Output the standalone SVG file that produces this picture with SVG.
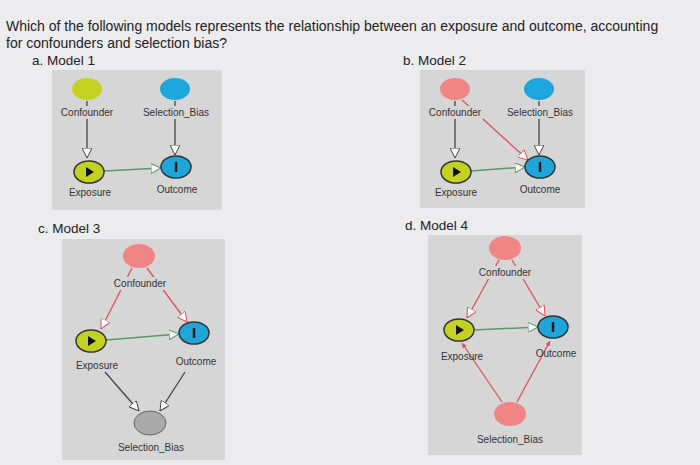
<svg xmlns="http://www.w3.org/2000/svg" width="700" height="465" viewBox="0 0 700 465">
<defs>
<style>
text{font-family:"Liberation Sans",Arial,sans-serif;fill:#222}
.q{font-size:14px}
.h{font-size:13.5px}
.l{font-size:10px;fill:#333}
.p{fill:#d6d6d6}
.g{fill:#c3d21f;stroke:#333;stroke-width:1.5}
.gn{fill:#c3d21f}
.b{fill:#1ca6dc}
.bo{fill:#1ca6dc;stroke:#333;stroke-width:1.5}
.r{fill:#f08585}
.gr{fill:#a9a9a9;stroke:#666;stroke-width:1}
.ek{stroke:#444;stroke-width:1.3;fill:none}
.er{stroke:#e0505a;stroke-width:1.3;fill:none}
.eg{stroke:#5a9a6a;stroke-width:1.5;fill:none}
</style>
<marker id="mk" viewBox="0 0 10 10" refX="10" refY="5" markerWidth="10" markerHeight="10" markerUnits="userSpaceOnUse" orient="auto"><path d="M0,0L10,5L0,10Z" fill="#fff" stroke="#444"/></marker>
<marker id="mr" viewBox="0 0 10 10" refX="10" refY="5" markerWidth="10" markerHeight="10" markerUnits="userSpaceOnUse" orient="auto"><path d="M0,0L10,5L0,10Z" fill="#fff" stroke="#e0505a"/></marker>
<marker id="mr2" viewBox="0 0 10 10" refX="10" refY="5" markerWidth="5" markerHeight="5" markerUnits="userSpaceOnUse" orient="auto"><path d="M0,0L10,5L0,10Z" fill="#e0505a"/></marker>
<marker id="mg" viewBox="0 0 10 10" refX="10" refY="5" markerWidth="10" markerHeight="10" markerUnits="userSpaceOnUse" orient="auto"><path d="M0,0L10,5L0,10Z" fill="#fff" stroke="#5a9a6a"/></marker>
<symbol id="exp" viewBox="-16 -12 32 24" overflow="visible"><ellipse rx="15" ry="11" class="g"/><path d="M-3,-5L5,0L-3,5Z" fill="#111"/></symbol>
<symbol id="out" viewBox="-16 -12 32 24" overflow="visible"><ellipse rx="15" ry="11" class="bo"/><rect x="-1.2" y="-5" width="2.4" height="10" fill="#111"/></symbol>
</defs>
<rect width="700" height="465" fill="#ececee"/>
<text class="q" x="6" y="31">Which of the following models represents the relationship between an exposure and outcome, accounting</text>
<text class="q" x="6" y="48">for confounders and selection bias?</text>
<text class="h" x="32" y="65">a.  Model 1</text>
<text class="h" x="403" y="65">b.  Model 2</text>
<text class="h" x="38" y="233">c.  Model 3</text>
<text class="h" x="405" y="230">d.  Model 4</text>
<rect class="p" x="52" y="70" width="170" height="140"/>
<rect class="p" x="420" y="70" width="165" height="138"/>
<rect class="p" x="62" y="239" width="163" height="221"/>
<rect class="p" x="428" y="235" width="154" height="220"/>
<g id="connectors">
<path class="ek" d="M87,101V158" marker-end="url(#mk)"/>
<path class="ek" d="M175,101V155" marker-end="url(#mk)"/>
<path class="eg" d="M104,171L161,168" marker-end="url(#mg)"/>
<path class="ek" d="M455,101V158" marker-end="url(#mk)"/>
<path class="ek" d="M539,101V155" marker-end="url(#mk)"/>
<path class="er" d="M462,100L528,160" marker-end="url(#mr)"/>
<path class="eg" d="M471,171L525,167" marker-end="url(#mg)"/>
<path class="er" d="M132,268L101,329" marker-end="url(#mr)"/>
<path class="er" d="M147,268L187,322" marker-end="url(#mr)"/>
<path class="eg" d="M106,340L179,334" marker-end="url(#mg)"/>
<path class="ek" d="M105,372L139,411" marker-end="url(#mk)"/>
<path class="ek" d="M185,372L160,411" marker-end="url(#mk)"/>
<path class="er" d="M499,260L467,318" marker-end="url(#mr)"/>
<path class="er" d="M512,260L545,316" marker-end="url(#mr)"/>
<path class="eg" d="M474,330L538,327" marker-end="url(#mg)"/>
<path class="er" d="M502,402L462,343" marker-end="url(#mr2)"/>
<path class="er" d="M517,402L550,341" marker-end="url(#mr2)"/>
</g>
<g id="m1-confounder"><ellipse cx="87" cy="89" rx="15" ry="11" class="gn"/><rect x="58" y="106" width="58" height="13" fill="#d6d6d6"/><text class="l" x="87" y="116" text-anchor="middle">Confounder</text></g>
<g id="m1-selection"><ellipse cx="175" cy="89" rx="15" ry="11" class="b"/><rect x="140" y="106" width="72" height="13" fill="#d6d6d6"/><text class="l" x="176" y="116" text-anchor="middle">Selection_Bias</text></g>
<g id="m1-exposure"><use href="#exp" x="73" y="160" width="32" height="24"/><text class="l" x="90" y="196" text-anchor="middle">Exposure</text></g>
<g id="m1-outcome"><use href="#out" x="160" y="155" width="32" height="24"/><text class="l" x="177" y="193" text-anchor="middle">Outcome</text></g>
<g id="m2-confounder"><ellipse cx="455" cy="89" rx="15" ry="11" class="r"/><rect x="427" y="106" width="56" height="13" fill="#d6d6d6"/><text class="l" x="455" y="116" text-anchor="middle">Confounder</text></g>
<g id="m2-selection"><ellipse cx="539" cy="89" rx="15" ry="11" class="b"/><rect x="504" y="106" width="72" height="13" fill="#d6d6d6"/><text class="l" x="540" y="116" text-anchor="middle">Selection_Bias</text></g>
<g id="m2-exposure"><use href="#exp" x="440" y="160" width="32" height="24"/><text class="l" x="456" y="196" text-anchor="middle">Exposure</text></g>
<g id="m2-outcome"><use href="#out" x="524" y="155" width="32" height="24"/><text class="l" x="540" y="193" text-anchor="middle">Outcome</text></g>
<g id="m3-confounder"><ellipse cx="139" cy="256" rx="16" ry="12" class="r"/><rect x="112" y="277" width="56" height="13" fill="#d6d6d6"/><text class="l" x="140" y="287" text-anchor="middle">Confounder</text></g>
<g id="m3-exposure"><use href="#exp" x="75" y="329" width="32" height="24"/><text class="l" x="97" y="369" text-anchor="middle">Exposure</text></g>
<g id="m3-outcome"><use href="#out" x="178" y="321" width="32" height="24"/><text class="l" x="196" y="365" text-anchor="middle">Outcome</text></g>
<g id="m3-selection"><ellipse cx="150" cy="423" rx="16" ry="12" class="gr"/><text class="l" x="151" y="451" text-anchor="middle">Selection_Bias</text></g>
<g id="m4-confounder"><ellipse cx="505" cy="248" rx="16" ry="12" class="r"/><rect x="477" y="266" width="56" height="13" fill="#d6d6d6"/><text class="l" x="505" y="276" text-anchor="middle">Confounder</text></g>
<g id="m4-exposure"><use href="#exp" x="443" y="318" width="32" height="24"/><text class="l" x="462" y="360" text-anchor="middle">Exposure</text></g>
<g id="m4-outcome"><use href="#out" x="537" y="315" width="32" height="24"/><text class="l" x="556" y="357" text-anchor="middle">Outcome</text></g>
<g id="m4-selection"><ellipse cx="510" cy="414" rx="16" ry="12" class="r"/><text class="l" x="510" y="443" text-anchor="middle">Selection_Bias</text></g>
</svg>
